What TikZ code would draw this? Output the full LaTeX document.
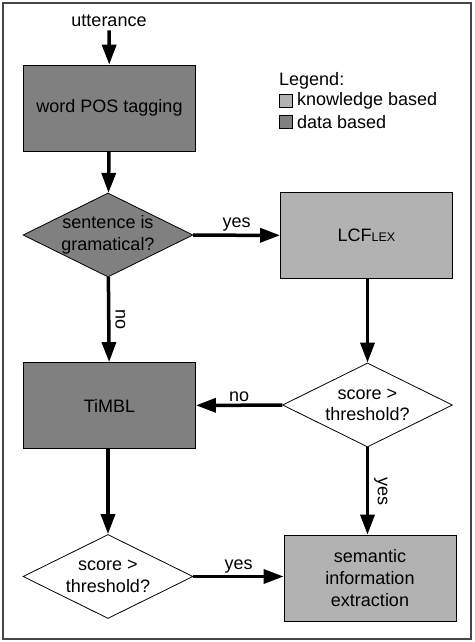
\documentclass[tikz,border=0pt]{standalone}
\usepackage{fontspec}
\setmainfont{Liberation Sans}
\usetikzlibrary{arrows.meta,positioning,shapes.geometric}

\definecolor{databased}{RGB}{128,128,128}
\definecolor{knowbased}{RGB}{178,178,178}
\definecolor{framegray}{RGB}{70,70,70}

\begin{document}
\begin{tikzpicture}[x=1pt,y=-1pt,font=\fontsize{18}{21.6}\selectfont,
    procbox/.style={draw,line width=0.8pt,minimum width=172pt,minimum height=86pt,align=center},
    decision/.style={draw,diamond,line width=0.8pt,minimum width=170pt,minimum height=84pt,inner sep=0pt},
    flow/.style={line width=3.5pt,-{Triangle[length=20pt,width=14pt]}},
    flowlabel/.style={inner sep=2pt},
    sidelabel/.style={above,rotate=-90,inner sep=5pt},
    legkey/.style={draw,line width=0.8pt,minimum size=13pt,inner sep=0pt},
    legtext/.style={inner sep=1pt}]
    \useasboundingbox (0,0) rectangle (474,642);
    \draw[line width=2pt,framegray] (3,3) rectangle (471,639);

    % main flow
    \node (utt) at (109,21) {utterance};
    \node [procbox,fill=databased] (tagging) at (109.5,108) {word POS tagging};
    \node [decision,fill=databased] (gram) at (108,235) {};
    \node [align=center] at (gram) {sentence is\\gramatical?};
    \node [procbox,fill=knowbased] (lcflex) at (366.5,235.5) {LCF{\fontsize{12.5}{12.5}\selectfont LEX}};
    \node [procbox,fill=databased] (timbl) at (109.5,405.5) {TiMBL};
    \node [decision,fill=white] (thrlcf) at (367.5,405) {};
    \node [align=center] at (thrlcf) {score >\\threshold?};
    \node [decision,fill=white] (thrtimbl) at (108,576.5) {};
    \node [align=center] at (thrtimbl) {score >\\threshold?};
    \node [procbox,fill=knowbased] (semantic) at (370,578) {semantic\\information\\extraction};

    % legend
    \node [anchor=west,legtext] (legend) at (278,81) {Legend:};
    \node [legkey,fill=knowbased] (keyknow) at (286,100.5) {};
    \node [legtext,right=3pt of keyknow] {knowledge based};
    \node [legkey,fill=databased,below=8pt of keyknow] (keydata) {};
    \node [legtext,right=3pt of keydata] {data based};

    % connectors
    \draw [flow] (utt) -- (tagging);
    \draw [flow] (tagging) -- (gram);
    \draw [flow] (gram) -- node [above,flowlabel] {yes} (lcflex);
    \draw [flow] (gram) -- node [sidelabel] {no} (timbl);
    \draw [flow] (lcflex.south -| thrlcf) -- (thrlcf);
    \draw [flow] (thrlcf) -- node [above,flowlabel] {no} (timbl);
    \draw [flow] (thrlcf.south) -- node [sidelabel] {yes} (thrlcf.south |- semantic.north);
    \draw [flow] (timbl.south -| thrtimbl) -- (thrtimbl);
    \draw [flow] (thrtimbl) -- node [above,flowlabel] {yes} (thrtimbl.east -| semantic.west);
\end{tikzpicture}
\end{document}
